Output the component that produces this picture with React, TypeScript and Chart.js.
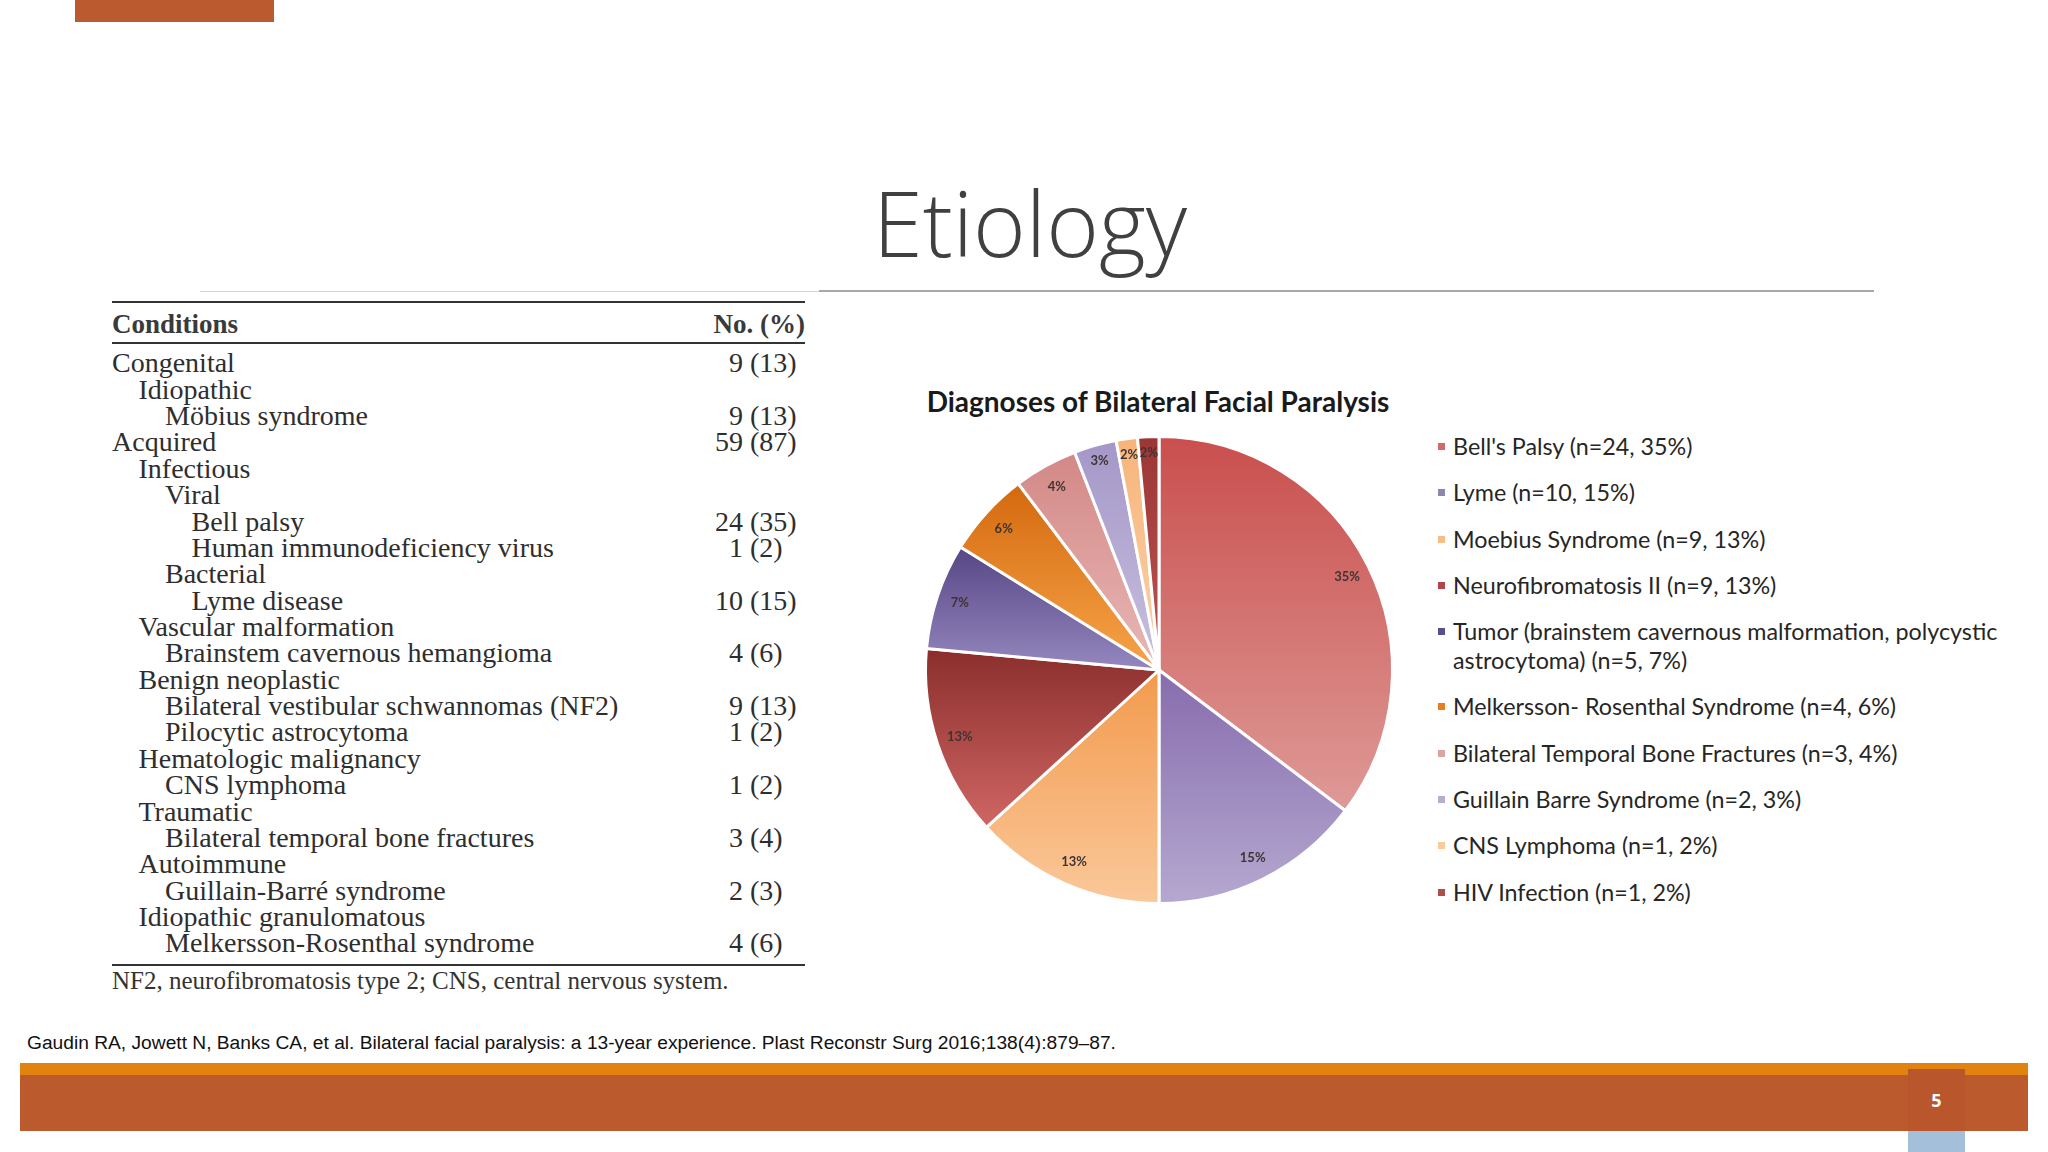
import React, { useEffect, useRef } from "react";
import { Chart, registerables } from "chart.js";

Chart.register(...registerables);

// ---------- data ----------
const slideTitle = "Etiology";
const chartTitle = "Diagnoses of Bilateral Facial Paralysis";

const diagnosisNames = [
  "Bell's Palsy",
  "Lyme",
  "Moebius Syndrome",
  "Neurofibromatosis II",
  "Tumor (brainstem cavernous malformation, polycystic astrocytoma)",
  "Melkersson- Rosenthal Syndrome",
  "Bilateral Temporal  Bone Fractures ",
  "Guillain Barre Syndrome",
  "CNS Lymphoma",
  "HIV Infection",
];
const diagnosisCounts = [24, 10, 9, 9, 5, 4, 3, 2, 1, 1];
const diagnosisPercents = [35, 15, 13, 13, 7, 6, 4, 3, 2, 2];

const sliceTopColors = ["#C94F4D", "#876CAD", "#F39A4C", "#8A2E2C", "#574685", "#D4690E", "#D38886", "#A497C8", "#F7B47A", "#9C3634"];
const sliceBottomColors = ["#DE9A97", "#B5A8D0", "#FAC89A", "#CF6663", "#9587BF", "#F7A449", "#E8B8B6", "#C9C0DF", "#FBD3AC", "#BC5552"];
const legendMarkerColors = ["#D2696A", "#8D86AE", "#F6BE86", "#B2454A", "#58508A", "#E6801E", "#DDA3A3", "#B5AED0", "#F9CB99", "#B04C4A"];

const conditionLabels = [
  "Congenital",
  "Idiopathic",
  "Möbius syndrome",
  "Acquired",
  "Infectious",
  "Viral",
  "Bell palsy",
  "Human immunodeficiency virus",
  "Bacterial",
  "Lyme disease",
  "Vascular malformation",
  "Brainstem cavernous hemangioma",
  "Benign neoplastic",
  "Bilateral vestibular schwannomas (NF2)",
  "Pilocytic astrocytoma",
  "Hematologic malignancy",
  "CNS lymphoma",
  "Traumatic",
  "Bilateral temporal bone fractures",
  "Autoimmune",
  "Guillain-Barré syndrome",
  "Idiopathic granulomatous",
  "Melkersson-Rosenthal syndrome",
];
const conditionLevels = [0, 1, 2, 0, 1, 2, 3, 3, 2, 3, 1, 2, 1, 2, 2, 1, 2, 1, 2, 1, 2, 1, 2];
const conditionN: (number | null)[] = [9, null, 9, 59, null, null, 24, 1, null, 10, null, 4, null, 9, 1, null, 1, null, 3, null, 2, null, 4];
const conditionPct: (number | null)[] = [13, null, 13, 87, null, null, 35, 2, null, 15, null, 6, null, 13, 2, null, 2, null, 4, null, 3, null, 6];
const tableHeaders = ["Conditions", "No. (%)"];
const tableFootnote = "NF2, neurofibromatosis type 2; CNS, central nervous system.";

const citation =
  "Gaudin RA, Jowett N, Banks CA, et al. Bilateral facial paralysis: a 13-year experience. Plast Reconstr Surg 2016;138(4):879–87.";
const pageNumber = "5";

// ---------- helpers ----------
function sliceGradient(ctx: any) {
  const i = ctx.dataIndex;
  const chart = ctx.chart;
  const area = chart.chartArea;
  const ctrl: any = chart.getDatasetMeta(0).controller;
  if (!area || !ctrl || !ctrl.outerRadius) return sliceTopColors[i];
  const cx = (area.left + area.right) / 2 + (ctrl.offsetX || 0);
  const cy = (area.top + area.bottom) / 2 + (ctrl.offsetY || 0);
  const r = ctrl.outerRadius;
  const total = diagnosisCounts.reduce((a, b) => a + b, 0);
  let before = 0;
  for (let k = 0; k < i; k++) before += diagnosisCounts[k];
  const a0 = -Math.PI / 2 + (2 * Math.PI * before) / total;
  const a1 = a0 + (2 * Math.PI * diagnosisCounts[i]) / total;
  const ys = [cy, cy + r * Math.sin(a0), cy + r * Math.sin(a1)];
  for (let k = -1; k <= 4; k++) {
    const a = (k * Math.PI) / 2;
    if (a > a0 && a < a1) ys.push(cy + r * Math.sin(a));
  }
  const minY = Math.min(...ys);
  const maxY = Math.max(...ys);
  const g = chart.ctx.createLinearGradient(0, minY, 0, maxY + 0.01);
  g.addColorStop(0, sliceTopColors[i]);
  g.addColorStop(1, sliceBottomColors[i]);
  return g;
}

const pieLabelsPlugin = {
  id: "pieLabels",
  afterDatasetsDraw(chart: any) {
    const c = chart.ctx;
    const meta = chart.getDatasetMeta(0);
    c.save();
    c.font = "bold 13px Lato";
    c.fillStyle = "#3f3434";
    c.textAlign = "center";
    c.textBaseline = "middle";
    meta.data.forEach((arc: any, i: number) => {
      const p = arc.getProps(["x", "y", "startAngle", "endAngle", "outerRadius"], true);
      const mid = (p.startAngle + p.endAngle) / 2;
      const rr = p.outerRadius * (diagnosisPercents[i] <= 3 ? 0.93 : 0.9);
      c.fillText(diagnosisPercents[i] + "%", p.x + rr * Math.cos(mid), p.y + rr * Math.sin(mid));
    });
    c.restore();
  },
};

function PieChart() {
  const ref = useRef<HTMLCanvasElement | null>(null);
  useEffect(() => {
    if (!ref.current) return;
    const chart = new Chart(ref.current, {
      type: "pie",
      data: {
        labels: diagnosisNames,
        datasets: [
          {
            data: diagnosisCounts,
            backgroundColor: sliceGradient as any,
            borderColor: "#ffffff",
            borderWidth: 3,
          },
        ],
      },
      options: {
        responsive: false,
        animation: false,
        events: [],
        layout: { padding: 10 },
        plugins: {
          legend: { display: false },
          tooltip: { enabled: false },
          title: { display: false },
        },
      },
      plugins: [pieLabelsPlugin],
    });
    return () => chart.destroy();
  }, []);
  return (
    <canvas
      ref={ref}
      width={490}
      height={490}
      style={{ position: "absolute", left: 914, top: 425, width: 490, height: 490 }}
    />
  );
}

const ROW0_TOP = 350.4;
const ROW_H = 26.36;

export default function App() {
  return (
    <div
      style={{
        position: "fixed",
        left: 0,
        top: 0,
        width: 2048,
        height: 1152,
        background: "#ffffff",
        overflow: "hidden",
      }}
    >
      {/* top accent */}
      <div style={{ position: "absolute", left: 75, top: 0, width: 199, height: 22, background: "#BB5A2E" }} />

      {/* slide title */}
      <div
        style={{
          position: "absolute",
          left: 0,
          width: 2060,
          top: 177,
          textAlign: "center",
          fontFamily: "'Open Sans'",
          fontWeight: 300,
          fontSize: 90,
          lineHeight: "90px",
          color: "#404040",
        }}
      >
        {slideTitle}
      </div>
      <div style={{ position: "absolute", left: 200, top: 291, width: 619, height: 1, background: "#d4d4d4" }} />
      <div style={{ position: "absolute", left: 819, top: 290, width: 1055, height: 2, background: "#a8a8a8" }} />

      {/* table */}
      <div style={{ position: "absolute", left: 112, top: 301, width: 693, height: 2, background: "#333" }} />
      <div
        style={{
          position: "absolute",
          left: 112,
          top: 309,
          width: 693,
          fontFamily: "'Liberation Serif'",
          fontWeight: 700,
          fontSize: 27,
          lineHeight: "30px",
          color: "#3a3a3a",
        }}
      >
        <span>{tableHeaders[0]}</span>
        <span style={{ position: "absolute", right: 0 }}>{tableHeaders[1]}</span>
      </div>
      <div style={{ position: "absolute", left: 112, top: 342, width: 693, height: 2, background: "#333" }} />
      {conditionLabels.map((label, i) => (
        <div
          key={i}
          style={{
            position: "absolute",
            left: 0,
            top: ROW0_TOP + i * ROW_H,
            height: ROW_H,
            width: 820,
            fontFamily: "'Liberation Serif'",
            fontSize: 28,
            lineHeight: ROW_H + "px",
            color: "#2e2e2e",
            whiteSpace: "nowrap",
          }}
        >
          <span style={{ position: "absolute", left: 112 + conditionLevels[i] * 26.5 }}>{label}</span>
          {conditionN[i] !== null && (
            <>
              <span style={{ position: "absolute", right: 820 - 743 }}>{conditionN[i]}</span>
              <span style={{ position: "absolute", left: 750 }}>({conditionPct[i]})</span>
            </>
          )}
        </div>
      ))}
      <div style={{ position: "absolute", left: 112, top: 964, width: 693, height: 2, background: "#333" }} />
      <div
        style={{
          position: "absolute",
          left: 112,
          top: 967,
          fontFamily: "'Liberation Serif'",
          fontSize: 25,
          lineHeight: "28px",
          color: "#333",
          whiteSpace: "nowrap",
        }}
      >
        {tableFootnote}
      </div>

      {/* chart title */}
      <div
        style={{
          position: "absolute",
          left: 808,
          width: 700,
          top: 385,
          textAlign: "center",
          fontFamily: "Lato",
          fontWeight: 700,
          fontSize: 28,
          lineHeight: "32px",
          color: "#1a1a1a",
          whiteSpace: "nowrap",
        }}
      >
        {chartTitle}
      </div>

      <PieChart />

      {/* legend */}
      <div
        style={{
          position: "absolute",
          left: 1436,
          top: 432,
          width: 610,
          display: "flex",
          flexDirection: "column",
          gap: 17.3,
        }}
      >
        {diagnosisNames.map((name, i) => (
          <div key={i} style={{ position: "relative", paddingLeft: 17, width: 585 }}>
            <div
              style={{
                position: "absolute",
                left: 2,
                top: 11,
                width: 7,
                height: 7,
                background: legendMarkerColors[i],
              }}
            />
            <div
              style={{
                fontFamily: "Lato",
                fontSize: 23.3,
                lineHeight: "29px",
                color: "#262626",
              }}
            >
              {`${name} (n=${diagnosisCounts[i]}, ${diagnosisPercents[i]}%)`}
            </div>
          </div>
        ))}
      </div>

      {/* citation */}
      <div
        style={{
          position: "absolute",
          left: 27,
          top: 1031,
          fontFamily: "'Liberation Sans'",
          fontSize: 19.2,
          lineHeight: "24px",
          color: "#111",
          whiteSpace: "nowrap",
        }}
      >
        {citation}
      </div>

      {/* bottom bar */}
      <div style={{ position: "absolute", left: 20, top: 1063, width: 2008, height: 12, background: "#E2830F" }} />
      <div style={{ position: "absolute", left: 20, top: 1075, width: 2008, height: 56, background: "#BB5A2D" }} />
      <div style={{ position: "absolute", left: 1908, top: 1069, width: 57, height: 62, background: "#B9562B" }} />
      <div
        style={{
          position: "absolute",
          left: 1908,
          width: 57,
          top: 1088,
          textAlign: "center",
          fontFamily: "'Open Sans'",
          fontWeight: 700,
          fontSize: 18,
          lineHeight: "24px",
          color: "#ffffff",
        }}
      >
        {pageNumber}
      </div>
      <div style={{ position: "absolute", left: 1908, top: 1131, width: 57, height: 21, background: "#A3BFDA" }} />
    </div>
  );
}
